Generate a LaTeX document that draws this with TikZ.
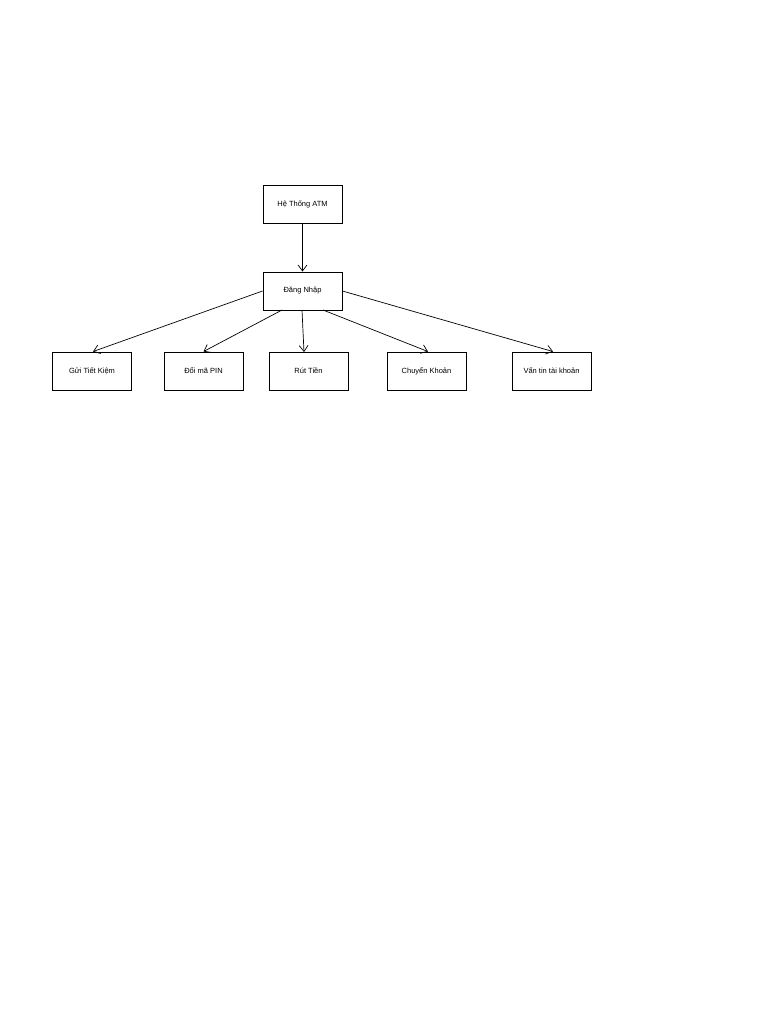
\documentclass[tikz,border=0pt]{standalone}
\usepackage{fontspec}
\setmainfont{Liberation Sans}
\usetikzlibrary{arrows.meta}
\begin{document}
\begin{tikzpicture}[x=1pt,y=-1pt,
  box/.style={draw=black,line width=0.9pt,fill=white,minimum width=79pt,minimum height=38pt,inner sep=0pt,font=\fontsize{7.5}{9}\selectfont},
  conn/.style={draw=black,line width=0.7pt,-{Straight Barb[length=6pt,width=9pt]}}]
\useasboundingbox[fill=white] (0,0) rectangle (768,1024);
\node[box] (atm) at (302.5,204.5) {Hệ Thống ATM};
\node[box] (dn) at (302.5,291) {Đăng Nhập};
\node[box] (gui) at (92,371) {Gửi Tiết Kiệm};
\node[box] (doi) at (203.5,371) {Đổi mã PIN};
\node[box] (rut) at (308.5,371) {Rút Tiền};
\node[box] (chuyen) at (426.5,371) {Chuyển Khoản};
\node[box] (van) at (551.5,371) {Vấn tin tài khoản};
\coordinate (p1) at (282,310);
\coordinate (p2) at (302,310);
\coordinate (p3) at (323,310);
\coordinate (q3) at (304,352);
\draw[conn] (atm.south) -- (dn.north);
\draw[conn] (dn.west) -- ([xshift=1pt]gui.north);
\draw[conn] (p1) -- (doi.north);
\draw[conn] (p2) -- (q3);
\draw[conn] (p3) -- ([xshift=1.5pt]chuyen.north);
\draw[conn] (dn.east) -- ([xshift=1.5pt]van.north);
\end{tikzpicture}
\end{document}
